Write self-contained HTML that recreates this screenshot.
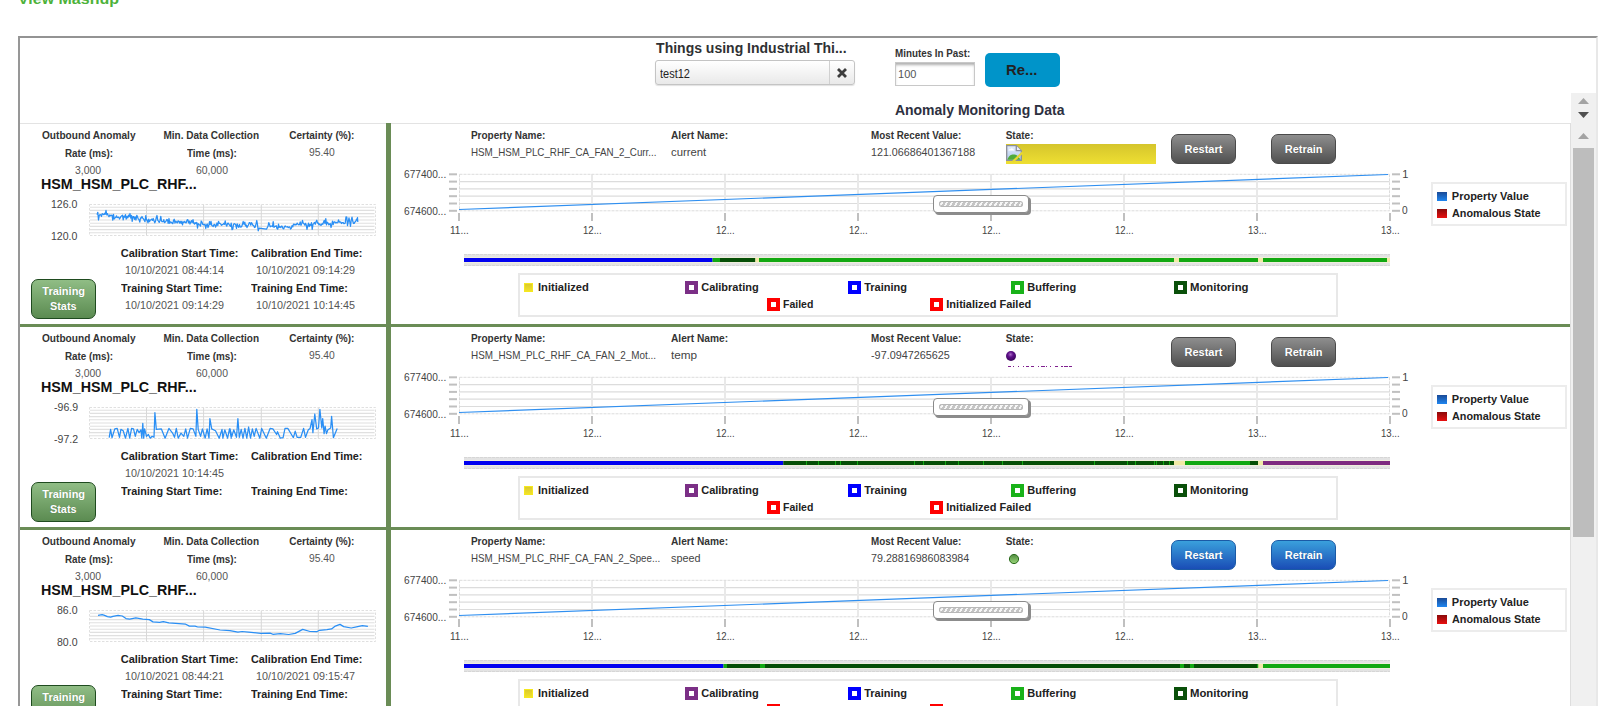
<!DOCTYPE html>
<html><head><meta charset="utf-8"><title>Anomaly Monitoring</title>
<style>
html,body{margin:0;padding:0;background:#fff;}
body{width:1610px;height:706px;overflow:hidden;position:relative;font-family:"Liberation Sans", sans-serif;}
.t{position:absolute;white-space:nowrap;}
</style></head><body>
<div style='position:absolute;left:18px;top:36px;width:1576px;height:700px;border-style:solid;border-width:2px;border-color:#939393 #e8e8e8 #e8e8e8 #979797;'></div>
<div style='position:absolute;left:655px;top:60px;width:198px;height:23px;border:1px solid #c4c4c4;border-radius:3px;background:linear-gradient(#ffffff,#e9e9e9);box-shadow:0 1px 1px rgba(0,0,0,.12);'></div>
<div style='position:absolute;left:829px;top:61px;width:1px;height:23px;background:#d0d0d0;'></div>
<svg style='position:absolute;left:836px;top:67px' width='12' height='12' viewBox='0 0 12 12'><path d='M2 2 L10 10 M10 2 L2 10' stroke='#3c3c3c' stroke-width='2.8' stroke-linecap='butt'/></svg>
<div style='position:absolute;left:895px;top:62px;width:78px;height:22px;border:1px solid #c8c8c8;background:#fff;box-shadow:inset 0 3px 3px -1px rgba(0,0,0,.32);'></div>
<div style='position:absolute;left:985px;top:53px;width:75px;height:34px;background:#0094c9;border-radius:5px;'></div>
<div style='position:absolute;left:20px;top:123px;width:1550px;height:1px;background:#e3e3e3;'></div>
<div style='position:absolute;left:1571px;top:93px;width:25px;height:30px;background:#f0f0f0;'></div>
<svg style='position:absolute;left:1571px;top:93px' width='25' height='30'><path d='M7 11 L12.5 5 L18 11 Z' fill='#a3a3a3'/><path d='M7 19 L18 19 L12.5 25 Z' fill='#505050'/></svg>
<div style='position:absolute;left:1570px;top:123px;width:26px;height:600px;background:#f0f0f0;border-left:1px solid #dedede;box-sizing:border-box;'></div>
<svg style='position:absolute;left:1571px;top:123px' width='25' height='20'><path d='M7 16 L12.5 10 L18 16 Z' fill='#a3a3a3'/></svg>
<div style='position:absolute;left:1573px;top:148px;width:21px;height:388.5px;background:#bdbdbd;'></div>
<div style='position:absolute;left:20px;top:324px;width:1550px;height:3px;background:#6a8c56;'></div>
<div style='position:absolute;left:386px;top:123px;width:5px;height:203px;background:#6a8c56;'></div>
<svg style='position:absolute;left:0;top:0px' width='400' height='330'><line x1='90' x2='374.5' y1='207.2' y2='207.2' stroke='#e0e0e0' stroke-width='1.1'/><line x1='90' x2='374.5' y1='210.4' y2='210.4' stroke='#e0e0e0' stroke-width='1.1'/><line x1='90' x2='374.5' y1='213.6' y2='213.6' stroke='#e0e0e0' stroke-width='1.1'/><line x1='90' x2='374.5' y1='216.8' y2='216.8' stroke='#e0e0e0' stroke-width='1.1'/><line x1='90' x2='374.5' y1='220' y2='220' stroke='#e0e0e0' stroke-width='1.1'/><line x1='90' x2='374.5' y1='223.2' y2='223.2' stroke='#e0e0e0' stroke-width='1.1'/><line x1='90' x2='374.5' y1='226.4' y2='226.4' stroke='#e0e0e0' stroke-width='1.1'/><line x1='90' x2='374.5' y1='229.6' y2='229.6' stroke='#e0e0e0' stroke-width='1.1'/><line x1='90' x2='374.5' y1='232.8' y2='232.8' stroke='#e0e0e0' stroke-width='1.1'/><line x1='146.5' x2='146.5' y1='204.5' y2='235.5' stroke='#d8d8d8' stroke-width='1'/><line x1='203.6' x2='203.6' y1='204.5' y2='235.5' stroke='#d8d8d8' stroke-width='1'/><line x1='261.3' x2='261.3' y1='204.5' y2='235.5' stroke='#d8d8d8' stroke-width='1'/><line x1='318.3' x2='318.3' y1='204.5' y2='235.5' stroke='#d8d8d8' stroke-width='1'/><rect x='89.5' y='204.5' width='286' height='31' fill='none' stroke='#e0e0e0' stroke-width='1' stroke-dasharray='2.5 1.5'/><polyline points='97.0,214.6 97.8,212.3 98.5,220.0 99.2,215.6 100.0,214.5 100.8,214.8 101.5,216.4 102.2,213.6 103.0,214.3 103.8,214.7 104.5,213.4 105.2,214.3 106.0,210.4 106.8,214.8 107.5,213.6 108.2,215.5 109.0,216.7 109.8,215.0 110.5,215.8 111.2,215.3 112.0,215.1 112.8,220.2 113.5,214.4 114.2,219.0 115.0,217.9 115.8,217.3 116.5,215.8 117.2,217.7 118.0,217.3 118.8,217.1 119.5,219.0 120.2,217.9 121.0,216.4 121.8,215.7 122.5,215.2 123.2,219.8 124.0,216.2 124.8,217.2 125.5,214.7 126.2,219.1 127.0,216.3 127.8,217.9 128.5,215.2 129.2,216.6 130.0,213.5 130.8,218.1 131.5,215.5 132.2,221.4 133.0,216.5 133.8,216.7 134.5,219.4 135.2,216.9 136.0,220.0 136.8,215.3 137.5,216.8 138.2,218.9 139.0,219.6 139.8,222.1 140.5,217.9 141.2,218.2 142.0,216.5 142.8,218.2 143.5,218.9 144.2,220.3 145.0,221.7 145.8,215.7 146.5,220.0 147.2,219.9 148.0,222.9 148.8,219.1 149.5,221.6 150.2,220.3 151.0,219.7 151.8,219.1 152.5,220.4 153.2,218.5 154.0,220.7 154.8,222.8 155.5,221.3 156.2,218.0 157.0,215.5 157.8,220.4 158.5,221.2 159.2,222.4 160.0,220.4 160.8,216.4 161.5,221.1 162.2,221.7 163.0,221.7 163.8,219.6 164.5,222.7 165.2,222.1 166.0,221.1 166.8,219.5 167.5,219.9 168.2,223.4 169.0,218.5 169.8,223.3 170.5,221.9 171.2,222.0 172.0,223.1 172.8,223.6 173.5,220.5 174.2,219.2 175.0,223.0 175.8,221.1 176.5,222.0 177.2,222.9 178.0,220.9 178.8,221.4 179.5,223.1 180.2,221.3 181.0,223.3 181.8,221.3 182.5,224.9 183.2,221.9 184.0,222.4 184.8,221.5 185.5,222.7 186.2,222.8 187.0,220.1 187.8,219.6 188.5,222.8 189.2,221.0 190.0,224.0 190.8,221.9 191.5,220.6 192.2,222.7 193.0,219.6 193.8,223.4 194.5,224.0 195.2,222.6 196.0,223.5 196.8,222.5 197.5,228.2 198.2,223.7 199.0,224.5 199.8,225.1 200.5,226.1 201.2,221.0 202.0,222.2 202.8,224.5 203.5,224.4 204.2,224.9 205.0,224.1 205.8,228.5 206.5,225.0 207.2,224.0 208.0,227.6 208.8,225.5 209.5,221.7 210.2,224.7 211.0,221.3 211.8,225.5 212.5,225.9 213.2,226.6 214.0,224.5 214.8,224.4 215.5,227.2 216.2,225.7 217.0,223.0 217.8,225.6 218.5,221.3 219.2,223.3 220.0,223.3 220.8,224.2 221.5,225.3 222.2,224.7 223.0,224.5 223.8,223.3 224.5,224.3 225.2,220.9 226.0,224.6 226.8,226.1 227.5,223.6 228.2,223.1 229.0,224.3 229.8,225.5 230.5,226.3 231.2,223.1 232.0,229.7 232.8,229.1 233.5,224.2 234.2,223.7 235.0,224.0 235.8,225.0 236.5,228.4 237.2,223.9 238.0,226.0 238.8,227.3 239.5,224.5 240.2,226.9 241.0,227.1 241.8,226.3 242.5,224.0 243.2,221.5 244.0,224.4 244.8,222.2 245.5,225.8 246.2,225.0 247.0,227.6 247.8,225.8 248.5,224.9 249.2,222.6 250.0,222.6 250.8,225.2 251.5,222.7 252.2,223.8 253.0,225.4 253.8,225.7 254.5,227.5 255.2,227.1 256.0,224.0 256.8,220.5 257.5,224.7 258.2,230.8 259.0,228.2 266.5,229.2 267.2,227.8 268.0,226.3 268.8,222.7 269.5,224.4 270.2,226.8 271.0,226.2 271.8,226.1 272.5,226.6 273.2,221.7 274.0,227.3 274.8,226.5 275.5,226.4 276.2,225.6 277.0,228.5 277.8,229.2 278.5,224.2 279.2,227.4 280.0,226.7 280.8,227.7 281.5,226.1 282.2,226.4 283.0,228.6 283.8,228.8 284.5,226.6 285.2,225.9 286.0,227.0 286.8,226.9 287.5,226.7 288.2,227.7 289.0,227.0 289.8,226.9 290.5,229.1 291.2,228.6 292.0,225.7 292.8,226.9 293.5,224.1 294.2,224.2 295.0,225.1 295.8,224.3 296.5,224.7 297.2,223.1 298.0,224.1 298.8,224.9 299.5,224.4 300.2,221.9 301.0,225.3 301.8,223.2 302.5,220.3 303.2,223.1 304.0,223.8 304.8,225.2 305.5,223.3 306.2,224.8 307.0,229.3 307.8,225.7 308.5,223.2 309.2,226.5 310.0,224.5 310.8,225.3 311.5,222.7 312.2,229.4 313.0,224.3 313.8,223.4 314.5,222.4 315.2,224.3 316.0,221.8 316.8,220.2 317.5,223.2 318.2,222.9 319.0,224.8 319.8,223.9 320.5,225.2 321.2,225.3 322.0,223.7 322.8,224.3 323.5,222.2 324.2,220.4 325.0,223.5 325.8,218.6 326.5,224.9 327.2,222.1 328.0,222.9 328.8,224.8 329.5,224.3 330.2,223.4 331.0,227.5 331.8,224.3 332.5,221.2 333.2,224.7 334.0,221.8 334.8,221.9 335.5,222.9 336.2,222.3 337.0,222.9 337.8,222.5 338.5,219.8 339.2,222.1 340.0,221.9 340.8,222.1 341.5,223.5 342.2,222.7 343.0,222.5 343.8,223.5 344.5,223.5 345.2,223.2 346.0,216.9 346.8,217.1 347.5,225.6 348.2,221.9 349.0,217.9 349.8,222.0 350.5,226.3 351.2,220.3 352.0,217.1 352.8,221.3 353.5,223.5 354.2,223.4 355.0,221.9 355.8,221.3 356.5,219.1 357.2,220.1 357.5,217.5 357.8,222.0' fill='none' stroke='#2a8ff5' stroke-width='1.25' stroke-linejoin='round'/></svg>
<div style='position:absolute;left:31px;top:279px;width:63px;height:38px;border:1px solid #1f4b1f;border-radius:7px;background:linear-gradient(#90bd85,#5b8b51);'></div>
<div style='position:absolute;left:1006px;top:144px;width:150px;height:20px;background:linear-gradient(#d5c52c,#eedf32);'></div>
<svg style='position:absolute;left:1006px;top:145px' width='17' height='17' viewBox='0 0 17 17'><defs><linearGradient id='sky' x1='0' y1='0' x2='0' y2='1'><stop offset='0' stop-color='#e6eef9'/><stop offset='1' stop-color='#adc6ef'/></linearGradient></defs><path d='M0.7 0.7 H10.3 L15.3 5.7 V15.3 H0.7 Z' fill='url(#sky)' stroke='#8b8f9c' stroke-width='1.3'/><path d='M10.3 0.7 V5.7 H15.3' fill='#eeeeF4' stroke='#8b8f9c' stroke-width='1.3'/><path d='M1.3 14.8 C3 10 6 9.2 8.5 9.6 C11 10 13 12 14.5 14.8 Z' fill='#4fab3a'/><path d='M2.5 5.5 C2.5 4.3 3.6 4 4.3 4.2 C4.8 3 6.6 3 7.2 4.2 C8.2 4.2 8.6 5 8.5 5.5 Z' fill='#ffffff'/><path d='M7 16.5 L16.5 7.5' stroke='#e8d630' stroke-width='2.2'/></svg>
<div style='position:absolute;left:1171px;top:134px;width:63px;height:28px;border:1px solid #4a4a4a;border-radius:7px;background:linear-gradient(#8e8e8e,#505050);'></div>
<div style='position:absolute;left:1271px;top:134px;width:63px;height:28px;border:1px solid #4a4a4a;border-radius:7px;background:linear-gradient(#8e8e8e,#505050);'></div>
<svg style='position:absolute;left:0;top:0px' width='1610' height='330'><line x1='459.5' x2='1389.5' y1='181.60' y2='181.60' stroke='#dcdcdc' stroke-width='1.2'/><line x1='459.5' x2='1389.5' y1='188.90' y2='188.90' stroke='#dcdcdc' stroke-width='1.2'/><line x1='459.5' x2='1389.5' y1='196.20' y2='196.20' stroke='#dcdcdc' stroke-width='1.2'/><line x1='459.5' x2='1389.5' y1='203.50' y2='203.50' stroke='#dcdcdc' stroke-width='1.2'/><line x1='592' x2='592' y1='174.3' y2='210.8' stroke='#e9e9e9' stroke-width='2'/><line x1='725' x2='725' y1='174.3' y2='210.8' stroke='#e9e9e9' stroke-width='2'/><line x1='858' x2='858' y1='174.3' y2='210.8' stroke='#e9e9e9' stroke-width='2'/><line x1='991' x2='991' y1='174.3' y2='210.8' stroke='#e9e9e9' stroke-width='2'/><line x1='1124' x2='1124' y1='174.3' y2='210.8' stroke='#e9e9e9' stroke-width='2'/><line x1='1257' x2='1257' y1='174.3' y2='210.8' stroke='#e9e9e9' stroke-width='2'/><line x1='459.5' x2='1389.5' y1='174.3' y2='174.3' stroke='#dcdcdc' stroke-width='1' stroke-dasharray='3 1'/><line x1='459.5' x2='1389.5' y1='210.8' y2='210.8' stroke='#dcdcdc' stroke-width='1' stroke-dasharray='3 1'/><line x1='459.5' x2='459.5' y1='174.3' y2='210.8' stroke='#dcdcdc' stroke-width='1' stroke-dasharray='3 1'/><line x1='1389.5' x2='1389.5' y1='174.3' y2='210.8' stroke='#dcdcdc' stroke-width='1' stroke-dasharray='3 1'/><line x1='449' x2='457' y1='174.30' y2='174.30' stroke='#c0c0c0' stroke-width='2'/><line x1='1392' x2='1400' y1='174.30' y2='174.30' stroke='#c0c0c0' stroke-width='2'/><line x1='449' x2='457' y1='181.60' y2='181.60' stroke='#c0c0c0' stroke-width='2'/><line x1='1392' x2='1400' y1='181.60' y2='181.60' stroke='#c0c0c0' stroke-width='2'/><line x1='449' x2='457' y1='188.90' y2='188.90' stroke='#c0c0c0' stroke-width='2'/><line x1='1392' x2='1400' y1='188.90' y2='188.90' stroke='#c0c0c0' stroke-width='2'/><line x1='449' x2='457' y1='196.20' y2='196.20' stroke='#c0c0c0' stroke-width='2'/><line x1='1392' x2='1400' y1='196.20' y2='196.20' stroke='#c0c0c0' stroke-width='2'/><line x1='449' x2='457' y1='203.50' y2='203.50' stroke='#c0c0c0' stroke-width='2'/><line x1='1392' x2='1400' y1='203.50' y2='203.50' stroke='#c0c0c0' stroke-width='2'/><line x1='449' x2='457' y1='210.80' y2='210.80' stroke='#c0c0c0' stroke-width='2'/><line x1='1392' x2='1400' y1='210.80' y2='210.80' stroke='#c0c0c0' stroke-width='2'/><line x1='459' x2='459' y1='213' y2='221' stroke='#c0c0c0' stroke-width='2'/><line x1='592' x2='592' y1='213' y2='221' stroke='#c0c0c0' stroke-width='2'/><line x1='725' x2='725' y1='213' y2='221' stroke='#c0c0c0' stroke-width='2'/><line x1='858' x2='858' y1='213' y2='221' stroke='#c0c0c0' stroke-width='2'/><line x1='991' x2='991' y1='213' y2='221' stroke='#c0c0c0' stroke-width='2'/><line x1='1124' x2='1124' y1='213' y2='221' stroke='#c0c0c0' stroke-width='2'/><line x1='1257' x2='1257' y1='213' y2='221' stroke='#c0c0c0' stroke-width='2'/><line x1='1390' x2='1390' y1='213' y2='221' stroke='#c0c0c0' stroke-width='2'/><line x1='459' y1='209.5' x2='1388' y2='174.5' stroke='#2f8ff0' stroke-width='1.15'/><rect x='464' y='254' width='926' height='12' fill='#e3e3e3'/><rect x='464' y='257' width='926' height='6' fill='#efeedc'/><line x1='464' x2='1390' y1='254.5' y2='254.5' stroke='#d6d6d6' stroke-width='1' stroke-dasharray='3 1'/><line x1='464' x2='1390' y1='265.5' y2='265.5' stroke='#d6d6d6' stroke-width='1' stroke-dasharray='3 1'/><rect x='464' y='258' width='248.60' height='4' fill='#0000f0'/><rect x='712.6' y='258' width='7.40' height='4' fill='#12a812'/><rect x='720' y='258' width='35.40' height='4' fill='#064f06'/><rect x='755.4' y='258' width='3.60' height='4' fill='#f1eaa6'/><rect x='759' y='258' width='415.00' height='4' fill='#12a812'/><rect x='1174' y='258' width='5.00' height='4' fill='#f1eaa6'/><rect x='1179' y='258' width='79.00' height='4' fill='#12a812'/><rect x='1258' y='258' width='5.00' height='4' fill='#f1eaa6'/><rect x='1263' y='258' width='124.00' height='4' fill='#12a812'/><rect x='1387' y='258' width='3.00' height='4' fill='#f1eaa6'/></svg>
<div style='position:absolute;left:933px;top:195px;width:94px;height:16px;background:#fff;border:1px solid #8a8a8a;border-radius:4px;box-shadow:2px 2px 0 #8c8c8c;'></div>
<div style='position:absolute;left:939px;top:201px;width:84px;height:6px;border-radius:3px;background:repeating-linear-gradient(120deg,#c4c4c4 0 2.4px,#f6f6f6 2.4px 4.3px);box-shadow:inset 0 0 0 1px #b8b8b8;'></div>
<div style='position:absolute;left:518px;top:273px;width:816px;height:40px;border:2px solid #e8e8e8;'></div>
<div style='position:absolute;left:524px;top:283px;width:9px;height:9px;background:linear-gradient(#d8c62c,#f4e52a);box-shadow:inset 0 0 0 1px #f5e81e;'></div>
<div style='position:absolute;left:685px;top:281px;width:5px;height:5px;border:4px solid #7b2f86;background:#fff;'></div>
<div style='position:absolute;left:848px;top:281px;width:5px;height:5px;border:4px solid #0000ff;background:#fff;'></div>
<div style='position:absolute;left:1011px;top:281px;width:5px;height:5px;border:4px solid #19b219;background:#fff;'></div>
<div style='position:absolute;left:1174px;top:281px;width:5px;height:5px;border:4px solid #0a500a;background:#fff;'></div>
<div style='position:absolute;left:767px;top:298px;width:5px;height:5px;border:4px solid #ff0000;background:#fff;'></div>
<div style='position:absolute;left:930px;top:298px;width:5px;height:5px;border:4px solid #ff0000;background:#fff;'></div>
<div style='position:absolute;left:1431px;top:182px;width:132px;height:40px;border:2px solid #ececec;'></div>
<div style='position:absolute;left:1437px;top:192px;width:10px;height:9px;background:linear-gradient(#1a4a96,#1f86f0);'></div>
<div style='position:absolute;left:1437px;top:209px;width:10px;height:9px;background:linear-gradient(#8a0a0a,#e81010);'></div>
<div style='position:absolute;left:20px;top:527px;width:1550px;height:3px;background:#6a8c56;'></div>
<div style='position:absolute;left:386px;top:327px;width:5px;height:203px;background:#6a8c56;'></div>
<svg style='position:absolute;left:0;top:203px' width='400' height='330'><line x1='90' x2='374.5' y1='207.2' y2='207.2' stroke='#e0e0e0' stroke-width='1.1'/><line x1='90' x2='374.5' y1='210.4' y2='210.4' stroke='#e0e0e0' stroke-width='1.1'/><line x1='90' x2='374.5' y1='213.6' y2='213.6' stroke='#e0e0e0' stroke-width='1.1'/><line x1='90' x2='374.5' y1='216.8' y2='216.8' stroke='#e0e0e0' stroke-width='1.1'/><line x1='90' x2='374.5' y1='220' y2='220' stroke='#e0e0e0' stroke-width='1.1'/><line x1='90' x2='374.5' y1='223.2' y2='223.2' stroke='#e0e0e0' stroke-width='1.1'/><line x1='90' x2='374.5' y1='226.4' y2='226.4' stroke='#e0e0e0' stroke-width='1.1'/><line x1='90' x2='374.5' y1='229.6' y2='229.6' stroke='#e0e0e0' stroke-width='1.1'/><line x1='90' x2='374.5' y1='232.8' y2='232.8' stroke='#e0e0e0' stroke-width='1.1'/><line x1='146.5' x2='146.5' y1='204.5' y2='235.5' stroke='#d8d8d8' stroke-width='1'/><line x1='203.6' x2='203.6' y1='204.5' y2='235.5' stroke='#d8d8d8' stroke-width='1'/><line x1='261.3' x2='261.3' y1='204.5' y2='235.5' stroke='#d8d8d8' stroke-width='1'/><line x1='318.3' x2='318.3' y1='204.5' y2='235.5' stroke='#d8d8d8' stroke-width='1'/><rect x='89.5' y='204.5' width='286' height='31' fill='none' stroke='#e0e0e0' stroke-width='1' stroke-dasharray='2.5 1.5'/><polyline points='109.2,234.7 110.6,226.4 112.0,234.7 114.8,225.9 117.2,225.4 119.5,234.3 120.9,226.4 123.2,227.8 125.5,235.2 127.9,225.4 129.7,235.2 131.6,225.4 133.5,225.9 135.3,233.3 137.2,226.4 139.1,229.6 140.9,226.8 141.8,235.2 142.8,220.3 143.7,235.2 144.6,225.9 146.5,233.3 148.4,231.5 150.2,235.2 152.1,233.3 154.0,234.3 154.9,209.6 156.3,226.4 161.4,225.9 165.1,235.2 168.9,225.4 172.6,230.1 174.5,234.3 176.3,225.4 178.2,235.2 181.0,230.1 183.8,233.3 185.7,225.9 187.5,235.2 190.3,225.4 193.1,225.9 195.9,233.3 196.8,206.3 198.2,226.4 200.6,233.3 202.4,225.9 205.2,235.2 207.1,225.9 209.0,235.2 209.9,215.6 211.7,225.9 215.5,227.8 219.2,235.2 222.0,226.4 222.9,235.2 224.8,226.8 227.6,235.2 229.5,225.9 231.3,235.2 230.0,225.9 231.9,233.3 233.7,226.8 236.5,234.3 237.9,215.6 239.3,234.3 241.2,226.4 243.0,235.2 244.9,225.4 246.8,235.2 248.6,224.0 250.5,235.2 252.4,225.9 254.2,233.3 256.1,225.4 259.8,235.2 261.7,225.4 266.3,235.2 270.1,225.4 272.9,225.9 276.6,231.5 277.5,228.7 280.3,235.2 283.1,234.7 285.0,225.4 287.8,225.4 293.4,234.7 295.2,228.2 297.1,234.3 300.8,234.3 303.6,225.4 305.5,234.3 308.3,226.8 310.1,225.4 312.0,216.6 312.9,229.6 314.8,211.0 316.7,225.9 318.5,225.0 319.9,206.3 321.8,225.0 322.7,215.6 324.1,230.6 325.1,223.1 326.5,230.6 327.9,226.8 330.7,225.0 331.6,213.3 333.4,234.7 337.2,225.4' fill='none' stroke='#2a8ff5' stroke-width='1.25' stroke-linejoin='round'/></svg>
<div style='position:absolute;left:31px;top:482px;width:63px;height:38px;border:1px solid #1f4b1f;border-radius:7px;background:linear-gradient(#90bd85,#5b8b51);'></div>
<svg style='position:absolute;left:1005px;top:350px' width='12' height='12'><defs><radialGradient id='gp' cx='0.45' cy='0.35' r='0.6'><stop offset='0' stop-color='#a868c8'/><stop offset='0.45' stop-color='#5e1088'/><stop offset='1' stop-color='#3e0660'/></radialGradient></defs><circle cx='6' cy='6' r='5' fill='url(#gp)'/></svg>
<svg style='position:absolute;left:1008px;top:366px' width='64' height='2'><line x1='0' x2='64' y1='0.5' y2='0.5' stroke='#80208f' stroke-width='1' stroke-dasharray='3 2 1 4 1 4 1 2 3 2 3 4 1 2 4 1 1 3 1 4 3'/></svg>
<div style='position:absolute;left:1171px;top:337px;width:63px;height:28px;border:1px solid #4a4a4a;border-radius:7px;background:linear-gradient(#8e8e8e,#505050);'></div>
<div style='position:absolute;left:1271px;top:337px;width:63px;height:28px;border:1px solid #4a4a4a;border-radius:7px;background:linear-gradient(#8e8e8e,#505050);'></div>
<svg style='position:absolute;left:0;top:203px' width='1610' height='330'><line x1='459.5' x2='1389.5' y1='181.60' y2='181.60' stroke='#dcdcdc' stroke-width='1.2'/><line x1='459.5' x2='1389.5' y1='188.90' y2='188.90' stroke='#dcdcdc' stroke-width='1.2'/><line x1='459.5' x2='1389.5' y1='196.20' y2='196.20' stroke='#dcdcdc' stroke-width='1.2'/><line x1='459.5' x2='1389.5' y1='203.50' y2='203.50' stroke='#dcdcdc' stroke-width='1.2'/><line x1='592' x2='592' y1='174.3' y2='210.8' stroke='#e9e9e9' stroke-width='2'/><line x1='725' x2='725' y1='174.3' y2='210.8' stroke='#e9e9e9' stroke-width='2'/><line x1='858' x2='858' y1='174.3' y2='210.8' stroke='#e9e9e9' stroke-width='2'/><line x1='991' x2='991' y1='174.3' y2='210.8' stroke='#e9e9e9' stroke-width='2'/><line x1='1124' x2='1124' y1='174.3' y2='210.8' stroke='#e9e9e9' stroke-width='2'/><line x1='1257' x2='1257' y1='174.3' y2='210.8' stroke='#e9e9e9' stroke-width='2'/><line x1='459.5' x2='1389.5' y1='174.3' y2='174.3' stroke='#dcdcdc' stroke-width='1' stroke-dasharray='3 1'/><line x1='459.5' x2='1389.5' y1='210.8' y2='210.8' stroke='#dcdcdc' stroke-width='1' stroke-dasharray='3 1'/><line x1='459.5' x2='459.5' y1='174.3' y2='210.8' stroke='#dcdcdc' stroke-width='1' stroke-dasharray='3 1'/><line x1='1389.5' x2='1389.5' y1='174.3' y2='210.8' stroke='#dcdcdc' stroke-width='1' stroke-dasharray='3 1'/><line x1='449' x2='457' y1='174.30' y2='174.30' stroke='#c0c0c0' stroke-width='2'/><line x1='1392' x2='1400' y1='174.30' y2='174.30' stroke='#c0c0c0' stroke-width='2'/><line x1='449' x2='457' y1='181.60' y2='181.60' stroke='#c0c0c0' stroke-width='2'/><line x1='1392' x2='1400' y1='181.60' y2='181.60' stroke='#c0c0c0' stroke-width='2'/><line x1='449' x2='457' y1='188.90' y2='188.90' stroke='#c0c0c0' stroke-width='2'/><line x1='1392' x2='1400' y1='188.90' y2='188.90' stroke='#c0c0c0' stroke-width='2'/><line x1='449' x2='457' y1='196.20' y2='196.20' stroke='#c0c0c0' stroke-width='2'/><line x1='1392' x2='1400' y1='196.20' y2='196.20' stroke='#c0c0c0' stroke-width='2'/><line x1='449' x2='457' y1='203.50' y2='203.50' stroke='#c0c0c0' stroke-width='2'/><line x1='1392' x2='1400' y1='203.50' y2='203.50' stroke='#c0c0c0' stroke-width='2'/><line x1='449' x2='457' y1='210.80' y2='210.80' stroke='#c0c0c0' stroke-width='2'/><line x1='1392' x2='1400' y1='210.80' y2='210.80' stroke='#c0c0c0' stroke-width='2'/><line x1='459' x2='459' y1='213' y2='221' stroke='#c0c0c0' stroke-width='2'/><line x1='592' x2='592' y1='213' y2='221' stroke='#c0c0c0' stroke-width='2'/><line x1='725' x2='725' y1='213' y2='221' stroke='#c0c0c0' stroke-width='2'/><line x1='858' x2='858' y1='213' y2='221' stroke='#c0c0c0' stroke-width='2'/><line x1='991' x2='991' y1='213' y2='221' stroke='#c0c0c0' stroke-width='2'/><line x1='1124' x2='1124' y1='213' y2='221' stroke='#c0c0c0' stroke-width='2'/><line x1='1257' x2='1257' y1='213' y2='221' stroke='#c0c0c0' stroke-width='2'/><line x1='1390' x2='1390' y1='213' y2='221' stroke='#c0c0c0' stroke-width='2'/><line x1='459' y1='209.5' x2='1388' y2='174.5' stroke='#2f8ff0' stroke-width='1.15'/><rect x='464' y='254' width='926' height='12' fill='#e3e3e3'/><rect x='464' y='257' width='926' height='6' fill='#efeedc'/><line x1='464' x2='1390' y1='254.5' y2='254.5' stroke='#d6d6d6' stroke-width='1' stroke-dasharray='3 1'/><line x1='464' x2='1390' y1='265.5' y2='265.5' stroke='#d6d6d6' stroke-width='1' stroke-dasharray='3 1'/><rect x='464' y='258' width='319.30' height='4' fill='#0000f0'/><rect x='783.3' y='258' width='390.70' height='4' fill='#064f06'/><rect x='806' y='258' width='1.00' height='4' fill='#12a812'/><rect x='818' y='258' width='1.00' height='4' fill='#12a812'/><rect x='835' y='258' width='1.00' height='4' fill='#12a812'/><rect x='840' y='258' width='1.00' height='4' fill='#12a812'/><rect x='857' y='258' width='1.00' height='4' fill='#12a812'/><rect x='914' y='258' width='1.00' height='4' fill='#12a812'/><rect x='923' y='258' width='1.00' height='4' fill='#12a812'/><rect x='945' y='258' width='1.00' height='4' fill='#12a812'/><rect x='958' y='258' width='1.00' height='4' fill='#12a812'/><rect x='983' y='258' width='1.00' height='4' fill='#12a812'/><rect x='1002' y='258' width='1.00' height='4' fill='#12a812'/><rect x='1022' y='258' width='1.00' height='4' fill='#12a812'/><rect x='1094' y='258' width='1.00' height='4' fill='#12a812'/><rect x='1127' y='258' width='1.00' height='4' fill='#12a812'/><rect x='1135' y='258' width='1.00' height='4' fill='#12a812'/><rect x='1154' y='258' width='1.00' height='4' fill='#12a812'/><rect x='1156' y='258' width='1.00' height='4' fill='#12a812'/><rect x='1163' y='258' width='1.00' height='4' fill='#12a812'/><rect x='1169' y='258' width='1.00' height='4' fill='#12a812'/><rect x='1174' y='258' width='11.00' height='4' fill='#f1eaa6'/><rect x='1185' y='258' width='65.00' height='4' fill='#12a812'/><rect x='1250' y='258' width='8.00' height='4' fill='#064f06'/><rect x='1258' y='258' width='5.00' height='4' fill='#f1eaa6'/><rect x='1263' y='258' width='127.00' height='4' fill='#7e2a80'/></svg>
<div style='position:absolute;left:933px;top:398px;width:94px;height:16px;background:#fff;border:1px solid #8a8a8a;border-radius:4px;box-shadow:2px 2px 0 #8c8c8c;'></div>
<div style='position:absolute;left:939px;top:404px;width:84px;height:6px;border-radius:3px;background:repeating-linear-gradient(120deg,#c4c4c4 0 2.4px,#f6f6f6 2.4px 4.3px);box-shadow:inset 0 0 0 1px #b8b8b8;'></div>
<div style='position:absolute;left:518px;top:476px;width:816px;height:40px;border:2px solid #e8e8e8;'></div>
<div style='position:absolute;left:524px;top:486px;width:9px;height:9px;background:linear-gradient(#d8c62c,#f4e52a);box-shadow:inset 0 0 0 1px #f5e81e;'></div>
<div style='position:absolute;left:685px;top:484px;width:5px;height:5px;border:4px solid #7b2f86;background:#fff;'></div>
<div style='position:absolute;left:848px;top:484px;width:5px;height:5px;border:4px solid #0000ff;background:#fff;'></div>
<div style='position:absolute;left:1011px;top:484px;width:5px;height:5px;border:4px solid #19b219;background:#fff;'></div>
<div style='position:absolute;left:1174px;top:484px;width:5px;height:5px;border:4px solid #0a500a;background:#fff;'></div>
<div style='position:absolute;left:767px;top:501px;width:5px;height:5px;border:4px solid #ff0000;background:#fff;'></div>
<div style='position:absolute;left:930px;top:501px;width:5px;height:5px;border:4px solid #ff0000;background:#fff;'></div>
<div style='position:absolute;left:1431px;top:385px;width:132px;height:40px;border:2px solid #ececec;'></div>
<div style='position:absolute;left:1437px;top:395px;width:10px;height:9px;background:linear-gradient(#1a4a96,#1f86f0);'></div>
<div style='position:absolute;left:1437px;top:412px;width:10px;height:9px;background:linear-gradient(#8a0a0a,#e81010);'></div>
<div style='position:absolute;left:20px;top:730px;width:1550px;height:3px;background:#6a8c56;'></div>
<div style='position:absolute;left:386px;top:530px;width:5px;height:203px;background:#6a8c56;'></div>
<svg style='position:absolute;left:0;top:406px' width='400' height='330'><line x1='90' x2='374.5' y1='207.2' y2='207.2' stroke='#e0e0e0' stroke-width='1.1'/><line x1='90' x2='374.5' y1='210.4' y2='210.4' stroke='#e0e0e0' stroke-width='1.1'/><line x1='90' x2='374.5' y1='213.6' y2='213.6' stroke='#e0e0e0' stroke-width='1.1'/><line x1='90' x2='374.5' y1='216.8' y2='216.8' stroke='#e0e0e0' stroke-width='1.1'/><line x1='90' x2='374.5' y1='220' y2='220' stroke='#e0e0e0' stroke-width='1.1'/><line x1='90' x2='374.5' y1='223.2' y2='223.2' stroke='#e0e0e0' stroke-width='1.1'/><line x1='90' x2='374.5' y1='226.4' y2='226.4' stroke='#e0e0e0' stroke-width='1.1'/><line x1='90' x2='374.5' y1='229.6' y2='229.6' stroke='#e0e0e0' stroke-width='1.1'/><line x1='90' x2='374.5' y1='232.8' y2='232.8' stroke='#e0e0e0' stroke-width='1.1'/><line x1='146.5' x2='146.5' y1='204.5' y2='235.5' stroke='#d8d8d8' stroke-width='1'/><line x1='203.6' x2='203.6' y1='204.5' y2='235.5' stroke='#d8d8d8' stroke-width='1'/><line x1='261.3' x2='261.3' y1='204.5' y2='235.5' stroke='#d8d8d8' stroke-width='1'/><line x1='318.3' x2='318.3' y1='204.5' y2='235.5' stroke='#d8d8d8' stroke-width='1'/><rect x='89.5' y='204.5' width='286' height='31' fill='none' stroke='#e0e0e0' stroke-width='1' stroke-dasharray='2.5 1.5'/><polyline points='98.0,209.4 102.2,208.7 104.6,209.4 107.4,210.6 110.6,211.2 113.0,210.3 118.1,209.4 122.3,210.0 126.0,212.6 129.7,213.1 135.8,211.9 142.8,213.1 149.3,213.6 153.0,215.9 159.6,216.4 163.3,215.6 168.9,216.8 185.7,218.2 189.4,220.1 195.0,220.1 197.8,221.0 205.2,221.2 220.1,224.0 230.0,224.6 237.9,226.2 242.1,225.5 248.6,226.2 260.8,227.4 270.1,227.1 272.9,228.3 280.3,227.7 288.7,228.5 295.2,227.4 302.7,223.4 310.1,225.5 316.7,225.7 319.5,224.3 326.9,223.6 331.6,222.9 335.3,220.1 340.0,218.4 343.7,220.6 351.2,222.0 357.7,220.6 362.3,219.6 367.9,220.3' fill='none' stroke='#2a8ff5' stroke-width='1.25' stroke-linejoin='round'/></svg>
<div style='position:absolute;left:31px;top:685px;width:63px;height:38px;border:1px solid #1f4b1f;border-radius:7px;background:linear-gradient(#90bd85,#5b8b51);'></div>
<svg style='position:absolute;left:1008px;top:553px' width='12' height='12'><defs><linearGradient id='gg' x1='0' y1='0' x2='0' y2='1'><stop offset='0' stop-color='#4f8a3e'/><stop offset='1' stop-color='#9ad67a'/></linearGradient></defs><circle cx='6' cy='6' r='4.6' fill='url(#gg)' stroke='#2a6a1c' stroke-width='1'/></svg>
<div style='position:absolute;left:1171px;top:540px;width:63px;height:28px;border:1px solid #1a5aa6;border-radius:7px;background:linear-gradient(#3aa0dc,#1a4db6);'></div>
<div style='position:absolute;left:1271px;top:540px;width:63px;height:28px;border:1px solid #1a5aa6;border-radius:7px;background:linear-gradient(#3aa0dc,#1a4db6);'></div>
<svg style='position:absolute;left:0;top:406px' width='1610' height='330'><line x1='459.5' x2='1389.5' y1='181.60' y2='181.60' stroke='#dcdcdc' stroke-width='1.2'/><line x1='459.5' x2='1389.5' y1='188.90' y2='188.90' stroke='#dcdcdc' stroke-width='1.2'/><line x1='459.5' x2='1389.5' y1='196.20' y2='196.20' stroke='#dcdcdc' stroke-width='1.2'/><line x1='459.5' x2='1389.5' y1='203.50' y2='203.50' stroke='#dcdcdc' stroke-width='1.2'/><line x1='592' x2='592' y1='174.3' y2='210.8' stroke='#e9e9e9' stroke-width='2'/><line x1='725' x2='725' y1='174.3' y2='210.8' stroke='#e9e9e9' stroke-width='2'/><line x1='858' x2='858' y1='174.3' y2='210.8' stroke='#e9e9e9' stroke-width='2'/><line x1='991' x2='991' y1='174.3' y2='210.8' stroke='#e9e9e9' stroke-width='2'/><line x1='1124' x2='1124' y1='174.3' y2='210.8' stroke='#e9e9e9' stroke-width='2'/><line x1='1257' x2='1257' y1='174.3' y2='210.8' stroke='#e9e9e9' stroke-width='2'/><line x1='459.5' x2='1389.5' y1='174.3' y2='174.3' stroke='#dcdcdc' stroke-width='1' stroke-dasharray='3 1'/><line x1='459.5' x2='1389.5' y1='210.8' y2='210.8' stroke='#dcdcdc' stroke-width='1' stroke-dasharray='3 1'/><line x1='459.5' x2='459.5' y1='174.3' y2='210.8' stroke='#dcdcdc' stroke-width='1' stroke-dasharray='3 1'/><line x1='1389.5' x2='1389.5' y1='174.3' y2='210.8' stroke='#dcdcdc' stroke-width='1' stroke-dasharray='3 1'/><line x1='449' x2='457' y1='174.30' y2='174.30' stroke='#c0c0c0' stroke-width='2'/><line x1='1392' x2='1400' y1='174.30' y2='174.30' stroke='#c0c0c0' stroke-width='2'/><line x1='449' x2='457' y1='181.60' y2='181.60' stroke='#c0c0c0' stroke-width='2'/><line x1='1392' x2='1400' y1='181.60' y2='181.60' stroke='#c0c0c0' stroke-width='2'/><line x1='449' x2='457' y1='188.90' y2='188.90' stroke='#c0c0c0' stroke-width='2'/><line x1='1392' x2='1400' y1='188.90' y2='188.90' stroke='#c0c0c0' stroke-width='2'/><line x1='449' x2='457' y1='196.20' y2='196.20' stroke='#c0c0c0' stroke-width='2'/><line x1='1392' x2='1400' y1='196.20' y2='196.20' stroke='#c0c0c0' stroke-width='2'/><line x1='449' x2='457' y1='203.50' y2='203.50' stroke='#c0c0c0' stroke-width='2'/><line x1='1392' x2='1400' y1='203.50' y2='203.50' stroke='#c0c0c0' stroke-width='2'/><line x1='449' x2='457' y1='210.80' y2='210.80' stroke='#c0c0c0' stroke-width='2'/><line x1='1392' x2='1400' y1='210.80' y2='210.80' stroke='#c0c0c0' stroke-width='2'/><line x1='459' x2='459' y1='213' y2='221' stroke='#c0c0c0' stroke-width='2'/><line x1='592' x2='592' y1='213' y2='221' stroke='#c0c0c0' stroke-width='2'/><line x1='725' x2='725' y1='213' y2='221' stroke='#c0c0c0' stroke-width='2'/><line x1='858' x2='858' y1='213' y2='221' stroke='#c0c0c0' stroke-width='2'/><line x1='991' x2='991' y1='213' y2='221' stroke='#c0c0c0' stroke-width='2'/><line x1='1124' x2='1124' y1='213' y2='221' stroke='#c0c0c0' stroke-width='2'/><line x1='1257' x2='1257' y1='213' y2='221' stroke='#c0c0c0' stroke-width='2'/><line x1='1390' x2='1390' y1='213' y2='221' stroke='#c0c0c0' stroke-width='2'/><line x1='459' y1='209.5' x2='1388' y2='174.5' stroke='#2f8ff0' stroke-width='1.15'/><rect x='464' y='254' width='926' height='12' fill='#e3e3e3'/><rect x='464' y='257' width='926' height='6' fill='#efeedc'/><line x1='464' x2='1390' y1='254.5' y2='254.5' stroke='#d6d6d6' stroke-width='1' stroke-dasharray='3 1'/><line x1='464' x2='1390' y1='265.5' y2='265.5' stroke='#d6d6d6' stroke-width='1' stroke-dasharray='3 1'/><rect x='464' y='258' width='259.50' height='4' fill='#0000f0'/><rect x='723.5' y='258' width='3.50' height='4' fill='#12a812'/><rect x='727' y='258' width='33.00' height='4' fill='#064f06'/><rect x='760' y='258' width='5.00' height='4' fill='#12a812'/><rect x='765' y='258' width='415.00' height='4' fill='#064f06'/><rect x='1180' y='258' width='4.00' height='4' fill='#12a812'/><rect x='1184' y='258' width='6.00' height='4' fill='#064f06'/><rect x='1190' y='258' width='4.00' height='4' fill='#12a812'/><rect x='1194' y='258' width='63.00' height='4' fill='#064f06'/><rect x='1257' y='258' width='1.50' height='4' fill='#12a812'/><rect x='1258.5' y='258' width='4.50' height='4' fill='#f1eaa6'/><rect x='1263' y='258' width='127.00' height='4' fill='#12a812'/></svg>
<div style='position:absolute;left:933px;top:601px;width:94px;height:16px;background:#fff;border:1px solid #8a8a8a;border-radius:4px;box-shadow:2px 2px 0 #8c8c8c;'></div>
<div style='position:absolute;left:939px;top:607px;width:84px;height:6px;border-radius:3px;background:repeating-linear-gradient(120deg,#c4c4c4 0 2.4px,#f6f6f6 2.4px 4.3px);box-shadow:inset 0 0 0 1px #b8b8b8;'></div>
<div style='position:absolute;left:518px;top:679px;width:816px;height:40px;border:2px solid #e8e8e8;'></div>
<div style='position:absolute;left:524px;top:689px;width:9px;height:9px;background:linear-gradient(#d8c62c,#f4e52a);box-shadow:inset 0 0 0 1px #f5e81e;'></div>
<div style='position:absolute;left:685px;top:687px;width:5px;height:5px;border:4px solid #7b2f86;background:#fff;'></div>
<div style='position:absolute;left:848px;top:687px;width:5px;height:5px;border:4px solid #0000ff;background:#fff;'></div>
<div style='position:absolute;left:1011px;top:687px;width:5px;height:5px;border:4px solid #19b219;background:#fff;'></div>
<div style='position:absolute;left:1174px;top:687px;width:5px;height:5px;border:4px solid #0a500a;background:#fff;'></div>
<div style='position:absolute;left:767px;top:704px;width:5px;height:5px;border:4px solid #ff0000;background:#fff;'></div>
<div style='position:absolute;left:930px;top:704px;width:5px;height:5px;border:4px solid #ff0000;background:#fff;'></div>
<div style='position:absolute;left:1431px;top:588px;width:132px;height:40px;border:2px solid #ececec;'></div>
<div style='position:absolute;left:1437px;top:598px;width:10px;height:9px;background:linear-gradient(#1a4a96,#1f86f0);'></div>
<div style='position:absolute;left:1437px;top:615px;width:10px;height:9px;background:linear-gradient(#8a0a0a,#e81010);'></div>
<div class=t style='left:17.7px;top:-11px;font:700 15.5px/20px "Liberation Sans", sans-serif;color:#4db23a;transform:scaleX(1.0309);transform-origin:0 0;'>View Mashup</div>
<div class=t style='left:656.1px;top:38px;font:700 14px/20px "Liberation Sans", sans-serif;color:#2f3133;'>Things using Industrial Thi...</div>
<div class=t style='left:659.8px;top:64px;font:400 12px/20px "Liberation Sans", sans-serif;color:#222;transform:scaleX(0.9150);transform-origin:0 0;'>test12</div>
<div class=t style='left:895.1px;top:44px;font:700 10px/20px "Liberation Sans", sans-serif;color:#333;transform:scaleX(0.9817);transform-origin:0 0;'>Minutes In Past:</div>
<div class=t style='left:898.1px;top:64px;font:400 11px/20px "Liberation Sans", sans-serif;color:#555;'>100</div>
<div class=t style='left:1006.0px;top:60px;font:700 14px/20px "Liberation Sans", sans-serif;color:#222;transform:scaleX(1.0635);transform-origin:0 0;'>Re...</div>
<div class=t style='left:894.9px;top:100px;font:700 14px/20px "Liberation Sans", sans-serif;color:#2d3040;'>Anomaly Monitoring Data</div>
<div class=t style='left:41.7px;top:126px;font:700 10px/20px "Liberation Sans", sans-serif;color:#333;transform:scaleX(1.0120);transform-origin:0 0;'>Outbound Anomaly</div>
<div class=t style='left:64.8px;top:144px;font:700 10px/20px "Liberation Sans", sans-serif;color:#333;transform:scaleX(0.9832);transform-origin:0 0;'>Rate (ms):</div>
<div class=t style='left:75.4px;top:160px;font:400 11px/20px "Liberation Sans", sans-serif;color:#555;transform:scaleX(0.9463);transform-origin:0 0;'>3,000</div>
<div class=t style='left:163.5px;top:126px;font:700 10px/20px "Liberation Sans", sans-serif;color:#333;'>Min. Data Collection</div>
<div class=t style='left:186.9px;top:144px;font:700 10px/20px "Liberation Sans", sans-serif;color:#333;transform:scaleX(0.9881);transform-origin:0 0;'>Time (ms):</div>
<div class=t style='left:195.5px;top:160px;font:400 11px/20px "Liberation Sans", sans-serif;color:#555;transform:scaleX(0.9494);transform-origin:0 0;'>60,000</div>
<div class=t style='left:289.3px;top:126px;font:700 10px/20px "Liberation Sans", sans-serif;color:#333;'>Certainty (%):</div>
<div class=t style='left:309.0px;top:142px;font:400 11px/20px "Liberation Sans", sans-serif;color:#555;transform:scaleX(0.9387);transform-origin:0 0;'>95.40</div>
<div class=t style='left:41.1px;top:174px;font:700 14px/20px "Liberation Sans", sans-serif;color:#111;transform:scaleX(1.0207);transform-origin:0 0;'>HSM_HSM_PLC_RHF...</div>
<div class=t style='left:51.1px;top:194px;font:400 11px/20px "Liberation Sans", sans-serif;color:#444;transform:scaleX(0.9586);transform-origin:0 0;'>126.0</div>
<div class=t style='left:51.1px;top:226px;font:400 11px/20px "Liberation Sans", sans-serif;color:#444;transform:scaleX(0.9586);transform-origin:0 0;'>120.0</div>
<div class=t style='left:120.7px;top:243px;font:700 11px/20px "Liberation Sans", sans-serif;color:#222;'>Calibration Start Time:</div>
<div class=t style='left:250.7px;top:243px;font:700 11px/20px "Liberation Sans", sans-serif;color:#222;transform:scaleX(0.9815);transform-origin:0 0;'>Calibration End Time:</div>
<div class=t style='left:125.2px;top:260px;font:400 11px/20px "Liberation Sans", sans-serif;color:#555;transform:scaleX(0.9816);transform-origin:0 0;'>10/10/2021 08:44:14</div>
<div class=t style='left:255.5px;top:260px;font:400 11px/20px "Liberation Sans", sans-serif;color:#555;transform:scaleX(0.9806);transform-origin:0 0;'>10/10/2021 09:14:29</div>
<div class=t style='left:121.4px;top:278px;font:700 11px/20px "Liberation Sans", sans-serif;color:#222;transform:scaleX(0.9824);transform-origin:0 0;'>Training Start Time:</div>
<div class=t style='left:250.7px;top:278px;font:700 11px/20px "Liberation Sans", sans-serif;color:#222;transform:scaleX(0.9805);transform-origin:0 0;'>Training End Time:</div>
<div class=t style='left:125.2px;top:295px;font:400 11px/20px "Liberation Sans", sans-serif;color:#555;transform:scaleX(0.9816);transform-origin:0 0;'>10/10/2021 09:14:29</div>
<div class=t style='left:255.5px;top:295px;font:400 11px/20px "Liberation Sans", sans-serif;color:#555;transform:scaleX(0.9806);transform-origin:0 0;'>10/10/2021 10:14:45</div>
<div class=t style='left:42.3px;top:281px;font:700 11px/20px "Liberation Sans", sans-serif;color:#fff;text-shadow:0 0 1px rgba(0,0,0,.25);'>Training</div>
<div class=t style='left:50.1px;top:296px;font:700 11px/20px "Liberation Sans", sans-serif;color:#fff;transform:scaleX(0.9882);transform-origin:0 0;text-shadow:0 0 1px rgba(0,0,0,.25);'>Stats</div>
<div class=t style='left:470.9px;top:126px;font:700 10px/20px "Liberation Sans", sans-serif;color:#333;'>Property Name:</div>
<div class=t style='left:470.9px;top:142px;font:400 11px/20px "Liberation Sans", sans-serif;color:#444;transform:scaleX(0.8898);transform-origin:0 0;'>HSM_HSM_PLC_RHF_CA_FAN_2_Curr...</div>
<div class=t style='left:670.7px;top:126px;font:700 10px/20px "Liberation Sans", sans-serif;color:#333;transform:scaleX(1.0174);transform-origin:0 0;'>Alert Name:</div>
<div class=t style='left:670.7px;top:142px;font:400 11px/20px "Liberation Sans", sans-serif;color:#444;transform:scaleX(1.0285);transform-origin:0 0;'>current</div>
<div class=t style='left:871.0px;top:126px;font:700 10px/20px "Liberation Sans", sans-serif;color:#333;transform:scaleX(0.9834);transform-origin:0 0;'>Most Recent Value:</div>
<div class=t style='left:870.7px;top:142px;font:400 11px/20px "Liberation Sans", sans-serif;color:#444;transform:scaleX(0.9730);transform-origin:0 0;'>121.06686401367188</div>
<div class=t style='left:1005.7px;top:126px;font:700 10px/20px "Liberation Sans", sans-serif;color:#333;'>State:</div>
<div class=t style='left:1184.5px;top:139px;font:700 11px/20px "Liberation Sans", sans-serif;color:#fff;text-shadow:0 0 1px rgba(0,0,0,.3);'>Restart</div>
<div class=t style='left:1284.7px;top:139px;font:700 11px/20px "Liberation Sans", sans-serif;color:#fff;text-shadow:0 0 1px rgba(0,0,0,.3);'>Retrain</div>
<div class=t style='left:404.2px;top:164px;font:400 11px/20px "Liberation Sans", sans-serif;color:#444;transform:scaleX(0.9200);transform-origin:0 0;'>677400...</div>
<div class=t style='left:404.2px;top:201px;font:400 11px/20px "Liberation Sans", sans-serif;color:#444;transform:scaleX(0.9200);transform-origin:0 0;'>674600...</div>
<div class=t style='left:1402.2px;top:164px;font:400 11px/20px "Liberation Sans", sans-serif;color:#444;'>1</div>
<div class=t style='left:1402.2px;top:200px;font:400 11px/20px "Liberation Sans", sans-serif;color:#444;transform:scaleX(0.9200);transform-origin:0 0;'>0</div>
<div class=t style='left:449.6px;top:220px;font:400 11px/20px "Liberation Sans", sans-serif;color:#444;transform:scaleX(0.9089);transform-origin:0 0;'>11...</div>
<div class=t style='left:582.7px;top:220px;font:400 11px/20px "Liberation Sans", sans-serif;color:#444;transform:scaleX(0.8729);transform-origin:0 0;'>12...</div>
<div class=t style='left:715.7px;top:220px;font:400 11px/20px "Liberation Sans", sans-serif;color:#444;transform:scaleX(0.8729);transform-origin:0 0;'>12...</div>
<div class=t style='left:848.7px;top:220px;font:400 11px/20px "Liberation Sans", sans-serif;color:#444;transform:scaleX(0.8729);transform-origin:0 0;'>12...</div>
<div class=t style='left:981.7px;top:220px;font:400 11px/20px "Liberation Sans", sans-serif;color:#444;transform:scaleX(0.8729);transform-origin:0 0;'>12...</div>
<div class=t style='left:1114.7px;top:220px;font:400 11px/20px "Liberation Sans", sans-serif;color:#444;transform:scaleX(0.8729);transform-origin:0 0;'>12...</div>
<div class=t style='left:1247.7px;top:220px;font:400 11px/20px "Liberation Sans", sans-serif;color:#444;transform:scaleX(0.8729);transform-origin:0 0;'>13...</div>
<div class=t style='left:1380.7px;top:220px;font:400 11px/20px "Liberation Sans", sans-serif;color:#444;transform:scaleX(0.8729);transform-origin:0 0;'>13...</div>
<div class=t style='left:538.2px;top:277px;font:700 11px/20px "Liberation Sans", sans-serif;color:#222;transform:scaleX(1.0157);transform-origin:0 0;'>Initialized</div>
<div class=t style='left:701.2px;top:277px;font:700 11px/20px "Liberation Sans", sans-serif;color:#222;'>Calibrating</div>
<div class=t style='left:864.2px;top:277px;font:700 11px/20px "Liberation Sans", sans-serif;color:#222;'>Training</div>
<div class=t style='left:1027.3px;top:277px;font:700 11px/20px "Liberation Sans", sans-serif;color:#222;'>Buffering</div>
<div class=t style='left:1190.3px;top:277px;font:700 11px/20px "Liberation Sans", sans-serif;color:#222;transform:scaleX(1.0299);transform-origin:0 0;'>Monitoring</div>
<div class=t style='left:783.2px;top:294px;font:700 11px/20px "Liberation Sans", sans-serif;color:#222;transform:scaleX(0.9548);transform-origin:0 0;'>Failed</div>
<div class=t style='left:946.3px;top:294px;font:700 11px/20px "Liberation Sans", sans-serif;color:#222;'>Initialized Failed</div>
<div class=t style='left:1451.8px;top:186px;font:700 11px/20px "Liberation Sans", sans-serif;color:#222;'>Property Value</div>
<div class=t style='left:1451.8px;top:203px;font:700 11px/20px "Liberation Sans", sans-serif;color:#222;transform:scaleX(0.9858);transform-origin:0 0;'>Anomalous State</div>
<div class=t style='left:41.7px;top:329px;font:700 10px/20px "Liberation Sans", sans-serif;color:#333;transform:scaleX(1.0120);transform-origin:0 0;'>Outbound Anomaly</div>
<div class=t style='left:64.8px;top:347px;font:700 10px/20px "Liberation Sans", sans-serif;color:#333;transform:scaleX(0.9832);transform-origin:0 0;'>Rate (ms):</div>
<div class=t style='left:75.4px;top:363px;font:400 11px/20px "Liberation Sans", sans-serif;color:#555;transform:scaleX(0.9463);transform-origin:0 0;'>3,000</div>
<div class=t style='left:163.5px;top:329px;font:700 10px/20px "Liberation Sans", sans-serif;color:#333;'>Min. Data Collection</div>
<div class=t style='left:186.9px;top:347px;font:700 10px/20px "Liberation Sans", sans-serif;color:#333;transform:scaleX(0.9881);transform-origin:0 0;'>Time (ms):</div>
<div class=t style='left:195.5px;top:363px;font:400 11px/20px "Liberation Sans", sans-serif;color:#555;transform:scaleX(0.9494);transform-origin:0 0;'>60,000</div>
<div class=t style='left:289.3px;top:329px;font:700 10px/20px "Liberation Sans", sans-serif;color:#333;'>Certainty (%):</div>
<div class=t style='left:309.0px;top:345px;font:400 11px/20px "Liberation Sans", sans-serif;color:#555;transform:scaleX(0.9387);transform-origin:0 0;'>95.40</div>
<div class=t style='left:41.1px;top:377px;font:700 14px/20px "Liberation Sans", sans-serif;color:#111;transform:scaleX(1.0207);transform-origin:0 0;'>HSM_HSM_PLC_RHF...</div>
<div class=t style='left:53.5px;top:397px;font:400 11px/20px "Liberation Sans", sans-serif;color:#444;transform:scaleX(0.9586);transform-origin:0 0;'>-96.9</div>
<div class=t style='left:53.5px;top:429px;font:400 11px/20px "Liberation Sans", sans-serif;color:#444;transform:scaleX(0.9586);transform-origin:0 0;'>-97.2</div>
<div class=t style='left:120.7px;top:446px;font:700 11px/20px "Liberation Sans", sans-serif;color:#222;'>Calibration Start Time:</div>
<div class=t style='left:250.7px;top:446px;font:700 11px/20px "Liberation Sans", sans-serif;color:#222;transform:scaleX(0.9815);transform-origin:0 0;'>Calibration End Time:</div>
<div class=t style='left:125.2px;top:463px;font:400 11px/20px "Liberation Sans", sans-serif;color:#555;transform:scaleX(0.9816);transform-origin:0 0;'>10/10/2021 10:14:45</div>
<div class=t style='left:121.4px;top:481px;font:700 11px/20px "Liberation Sans", sans-serif;color:#222;transform:scaleX(0.9824);transform-origin:0 0;'>Training Start Time:</div>
<div class=t style='left:250.7px;top:481px;font:700 11px/20px "Liberation Sans", sans-serif;color:#222;transform:scaleX(0.9805);transform-origin:0 0;'>Training End Time:</div>
<div class=t style='left:42.3px;top:484px;font:700 11px/20px "Liberation Sans", sans-serif;color:#fff;text-shadow:0 0 1px rgba(0,0,0,.25);'>Training</div>
<div class=t style='left:50.1px;top:499px;font:700 11px/20px "Liberation Sans", sans-serif;color:#fff;transform:scaleX(0.9882);transform-origin:0 0;text-shadow:0 0 1px rgba(0,0,0,.25);'>Stats</div>
<div class=t style='left:470.9px;top:329px;font:700 10px/20px "Liberation Sans", sans-serif;color:#333;'>Property Name:</div>
<div class=t style='left:470.9px;top:345px;font:400 11px/20px "Liberation Sans", sans-serif;color:#444;transform:scaleX(0.8980);transform-origin:0 0;'>HSM_HSM_PLC_RHF_CA_FAN_2_Mot...</div>
<div class=t style='left:670.7px;top:329px;font:700 10px/20px "Liberation Sans", sans-serif;color:#333;transform:scaleX(1.0174);transform-origin:0 0;'>Alert Name:</div>
<div class=t style='left:670.7px;top:345px;font:400 11px/20px "Liberation Sans", sans-serif;color:#444;transform:scaleX(1.0692);transform-origin:0 0;'>temp</div>
<div class=t style='left:871.0px;top:329px;font:700 10px/20px "Liberation Sans", sans-serif;color:#333;transform:scaleX(0.9834);transform-origin:0 0;'>Most Recent Value:</div>
<div class=t style='left:870.7px;top:345px;font:400 11px/20px "Liberation Sans", sans-serif;color:#444;transform:scaleX(0.9843);transform-origin:0 0;'>-97.0947265625</div>
<div class=t style='left:1005.7px;top:329px;font:700 10px/20px "Liberation Sans", sans-serif;color:#333;'>State:</div>
<div class=t style='left:1184.5px;top:342px;font:700 11px/20px "Liberation Sans", sans-serif;color:#fff;text-shadow:0 0 1px rgba(0,0,0,.3);'>Restart</div>
<div class=t style='left:1284.7px;top:342px;font:700 11px/20px "Liberation Sans", sans-serif;color:#fff;text-shadow:0 0 1px rgba(0,0,0,.3);'>Retrain</div>
<div class=t style='left:404.2px;top:367px;font:400 11px/20px "Liberation Sans", sans-serif;color:#444;transform:scaleX(0.9200);transform-origin:0 0;'>677400...</div>
<div class=t style='left:404.2px;top:404px;font:400 11px/20px "Liberation Sans", sans-serif;color:#444;transform:scaleX(0.9200);transform-origin:0 0;'>674600...</div>
<div class=t style='left:1402.2px;top:367px;font:400 11px/20px "Liberation Sans", sans-serif;color:#444;'>1</div>
<div class=t style='left:1402.2px;top:403px;font:400 11px/20px "Liberation Sans", sans-serif;color:#444;transform:scaleX(0.9200);transform-origin:0 0;'>0</div>
<div class=t style='left:449.6px;top:423px;font:400 11px/20px "Liberation Sans", sans-serif;color:#444;transform:scaleX(0.9089);transform-origin:0 0;'>11...</div>
<div class=t style='left:582.7px;top:423px;font:400 11px/20px "Liberation Sans", sans-serif;color:#444;transform:scaleX(0.8729);transform-origin:0 0;'>12...</div>
<div class=t style='left:715.7px;top:423px;font:400 11px/20px "Liberation Sans", sans-serif;color:#444;transform:scaleX(0.8729);transform-origin:0 0;'>12...</div>
<div class=t style='left:848.7px;top:423px;font:400 11px/20px "Liberation Sans", sans-serif;color:#444;transform:scaleX(0.8729);transform-origin:0 0;'>12...</div>
<div class=t style='left:981.7px;top:423px;font:400 11px/20px "Liberation Sans", sans-serif;color:#444;transform:scaleX(0.8729);transform-origin:0 0;'>12...</div>
<div class=t style='left:1114.7px;top:423px;font:400 11px/20px "Liberation Sans", sans-serif;color:#444;transform:scaleX(0.8729);transform-origin:0 0;'>12...</div>
<div class=t style='left:1247.7px;top:423px;font:400 11px/20px "Liberation Sans", sans-serif;color:#444;transform:scaleX(0.8729);transform-origin:0 0;'>13...</div>
<div class=t style='left:1380.7px;top:423px;font:400 11px/20px "Liberation Sans", sans-serif;color:#444;transform:scaleX(0.8729);transform-origin:0 0;'>13...</div>
<div class=t style='left:538.2px;top:480px;font:700 11px/20px "Liberation Sans", sans-serif;color:#222;transform:scaleX(1.0157);transform-origin:0 0;'>Initialized</div>
<div class=t style='left:701.2px;top:480px;font:700 11px/20px "Liberation Sans", sans-serif;color:#222;'>Calibrating</div>
<div class=t style='left:864.2px;top:480px;font:700 11px/20px "Liberation Sans", sans-serif;color:#222;'>Training</div>
<div class=t style='left:1027.3px;top:480px;font:700 11px/20px "Liberation Sans", sans-serif;color:#222;'>Buffering</div>
<div class=t style='left:1190.3px;top:480px;font:700 11px/20px "Liberation Sans", sans-serif;color:#222;transform:scaleX(1.0299);transform-origin:0 0;'>Monitoring</div>
<div class=t style='left:783.2px;top:497px;font:700 11px/20px "Liberation Sans", sans-serif;color:#222;transform:scaleX(0.9548);transform-origin:0 0;'>Failed</div>
<div class=t style='left:946.3px;top:497px;font:700 11px/20px "Liberation Sans", sans-serif;color:#222;'>Initialized Failed</div>
<div class=t style='left:1451.8px;top:389px;font:700 11px/20px "Liberation Sans", sans-serif;color:#222;'>Property Value</div>
<div class=t style='left:1451.8px;top:406px;font:700 11px/20px "Liberation Sans", sans-serif;color:#222;transform:scaleX(0.9858);transform-origin:0 0;'>Anomalous State</div>
<div class=t style='left:41.7px;top:532px;font:700 10px/20px "Liberation Sans", sans-serif;color:#333;transform:scaleX(1.0120);transform-origin:0 0;'>Outbound Anomaly</div>
<div class=t style='left:64.8px;top:550px;font:700 10px/20px "Liberation Sans", sans-serif;color:#333;transform:scaleX(0.9832);transform-origin:0 0;'>Rate (ms):</div>
<div class=t style='left:75.4px;top:566px;font:400 11px/20px "Liberation Sans", sans-serif;color:#555;transform:scaleX(0.9463);transform-origin:0 0;'>3,000</div>
<div class=t style='left:163.5px;top:532px;font:700 10px/20px "Liberation Sans", sans-serif;color:#333;'>Min. Data Collection</div>
<div class=t style='left:186.9px;top:550px;font:700 10px/20px "Liberation Sans", sans-serif;color:#333;transform:scaleX(0.9881);transform-origin:0 0;'>Time (ms):</div>
<div class=t style='left:195.5px;top:566px;font:400 11px/20px "Liberation Sans", sans-serif;color:#555;transform:scaleX(0.9494);transform-origin:0 0;'>60,000</div>
<div class=t style='left:289.3px;top:532px;font:700 10px/20px "Liberation Sans", sans-serif;color:#333;'>Certainty (%):</div>
<div class=t style='left:309.0px;top:548px;font:400 11px/20px "Liberation Sans", sans-serif;color:#555;transform:scaleX(0.9387);transform-origin:0 0;'>95.40</div>
<div class=t style='left:41.1px;top:580px;font:700 14px/20px "Liberation Sans", sans-serif;color:#111;transform:scaleX(1.0207);transform-origin:0 0;'>HSM_HSM_PLC_RHF...</div>
<div class=t style='left:57.0px;top:600px;font:400 11px/20px "Liberation Sans", sans-serif;color:#444;transform:scaleX(0.9586);transform-origin:0 0;'>86.0</div>
<div class=t style='left:57.0px;top:632px;font:400 11px/20px "Liberation Sans", sans-serif;color:#444;transform:scaleX(0.9586);transform-origin:0 0;'>80.0</div>
<div class=t style='left:120.7px;top:649px;font:700 11px/20px "Liberation Sans", sans-serif;color:#222;'>Calibration Start Time:</div>
<div class=t style='left:250.7px;top:649px;font:700 11px/20px "Liberation Sans", sans-serif;color:#222;transform:scaleX(0.9815);transform-origin:0 0;'>Calibration End Time:</div>
<div class=t style='left:125.2px;top:666px;font:400 11px/20px "Liberation Sans", sans-serif;color:#555;transform:scaleX(0.9816);transform-origin:0 0;'>10/10/2021 08:44:21</div>
<div class=t style='left:255.5px;top:666px;font:400 11px/20px "Liberation Sans", sans-serif;color:#555;transform:scaleX(0.9806);transform-origin:0 0;'>10/10/2021 09:15:47</div>
<div class=t style='left:121.4px;top:684px;font:700 11px/20px "Liberation Sans", sans-serif;color:#222;transform:scaleX(0.9824);transform-origin:0 0;'>Training Start Time:</div>
<div class=t style='left:250.7px;top:684px;font:700 11px/20px "Liberation Sans", sans-serif;color:#222;transform:scaleX(0.9805);transform-origin:0 0;'>Training End Time:</div>
<div class=t style='left:42.3px;top:687px;font:700 11px/20px "Liberation Sans", sans-serif;color:#fff;text-shadow:0 0 1px rgba(0,0,0,.25);'>Training</div>
<div class=t style='left:50.1px;top:702px;font:700 11px/20px "Liberation Sans", sans-serif;color:#fff;transform:scaleX(0.9882);transform-origin:0 0;text-shadow:0 0 1px rgba(0,0,0,.25);'>Stats</div>
<div class=t style='left:470.9px;top:532px;font:700 10px/20px "Liberation Sans", sans-serif;color:#333;'>Property Name:</div>
<div class=t style='left:470.9px;top:548px;font:400 11px/20px "Liberation Sans", sans-serif;color:#444;transform:scaleX(0.8862);transform-origin:0 0;'>HSM_HSM_PLC_RHF_CA_FAN_2_Spee...</div>
<div class=t style='left:670.7px;top:532px;font:700 10px/20px "Liberation Sans", sans-serif;color:#333;transform:scaleX(1.0174);transform-origin:0 0;'>Alert Name:</div>
<div class=t style='left:670.7px;top:548px;font:400 11px/20px "Liberation Sans", sans-serif;color:#444;transform:scaleX(0.9833);transform-origin:0 0;'>speed</div>
<div class=t style='left:871.0px;top:532px;font:700 10px/20px "Liberation Sans", sans-serif;color:#333;transform:scaleX(0.9834);transform-origin:0 0;'>Most Recent Value:</div>
<div class=t style='left:870.7px;top:548px;font:400 11px/20px "Liberation Sans", sans-serif;color:#444;transform:scaleX(0.9735);transform-origin:0 0;'>79.28816986083984</div>
<div class=t style='left:1005.7px;top:532px;font:700 10px/20px "Liberation Sans", sans-serif;color:#333;'>State:</div>
<div class=t style='left:1184.5px;top:545px;font:700 11px/20px "Liberation Sans", sans-serif;color:#fff;text-shadow:0 0 1px rgba(0,0,0,.3);'>Restart</div>
<div class=t style='left:1284.7px;top:545px;font:700 11px/20px "Liberation Sans", sans-serif;color:#fff;text-shadow:0 0 1px rgba(0,0,0,.3);'>Retrain</div>
<div class=t style='left:404.2px;top:570px;font:400 11px/20px "Liberation Sans", sans-serif;color:#444;transform:scaleX(0.9200);transform-origin:0 0;'>677400...</div>
<div class=t style='left:404.2px;top:607px;font:400 11px/20px "Liberation Sans", sans-serif;color:#444;transform:scaleX(0.9200);transform-origin:0 0;'>674600...</div>
<div class=t style='left:1402.2px;top:570px;font:400 11px/20px "Liberation Sans", sans-serif;color:#444;'>1</div>
<div class=t style='left:1402.2px;top:606px;font:400 11px/20px "Liberation Sans", sans-serif;color:#444;transform:scaleX(0.9200);transform-origin:0 0;'>0</div>
<div class=t style='left:449.6px;top:626px;font:400 11px/20px "Liberation Sans", sans-serif;color:#444;transform:scaleX(0.9089);transform-origin:0 0;'>11...</div>
<div class=t style='left:582.7px;top:626px;font:400 11px/20px "Liberation Sans", sans-serif;color:#444;transform:scaleX(0.8729);transform-origin:0 0;'>12...</div>
<div class=t style='left:715.7px;top:626px;font:400 11px/20px "Liberation Sans", sans-serif;color:#444;transform:scaleX(0.8729);transform-origin:0 0;'>12...</div>
<div class=t style='left:848.7px;top:626px;font:400 11px/20px "Liberation Sans", sans-serif;color:#444;transform:scaleX(0.8729);transform-origin:0 0;'>12...</div>
<div class=t style='left:981.7px;top:626px;font:400 11px/20px "Liberation Sans", sans-serif;color:#444;transform:scaleX(0.8729);transform-origin:0 0;'>12...</div>
<div class=t style='left:1114.7px;top:626px;font:400 11px/20px "Liberation Sans", sans-serif;color:#444;transform:scaleX(0.8729);transform-origin:0 0;'>12...</div>
<div class=t style='left:1247.7px;top:626px;font:400 11px/20px "Liberation Sans", sans-serif;color:#444;transform:scaleX(0.8729);transform-origin:0 0;'>13...</div>
<div class=t style='left:1380.7px;top:626px;font:400 11px/20px "Liberation Sans", sans-serif;color:#444;transform:scaleX(0.8729);transform-origin:0 0;'>13...</div>
<div class=t style='left:538.2px;top:683px;font:700 11px/20px "Liberation Sans", sans-serif;color:#222;transform:scaleX(1.0157);transform-origin:0 0;'>Initialized</div>
<div class=t style='left:701.2px;top:683px;font:700 11px/20px "Liberation Sans", sans-serif;color:#222;'>Calibrating</div>
<div class=t style='left:864.2px;top:683px;font:700 11px/20px "Liberation Sans", sans-serif;color:#222;'>Training</div>
<div class=t style='left:1027.3px;top:683px;font:700 11px/20px "Liberation Sans", sans-serif;color:#222;'>Buffering</div>
<div class=t style='left:1190.3px;top:683px;font:700 11px/20px "Liberation Sans", sans-serif;color:#222;transform:scaleX(1.0299);transform-origin:0 0;'>Monitoring</div>
<div class=t style='left:783.2px;top:700px;font:700 11px/20px "Liberation Sans", sans-serif;color:#222;transform:scaleX(0.9548);transform-origin:0 0;'>Failed</div>
<div class=t style='left:946.3px;top:700px;font:700 11px/20px "Liberation Sans", sans-serif;color:#222;'>Initialized Failed</div>
<div class=t style='left:1451.8px;top:592px;font:700 11px/20px "Liberation Sans", sans-serif;color:#222;'>Property Value</div>
<div class=t style='left:1451.8px;top:609px;font:700 11px/20px "Liberation Sans", sans-serif;color:#222;transform:scaleX(0.9858);transform-origin:0 0;'>Anomalous State</div>
</body></html>
